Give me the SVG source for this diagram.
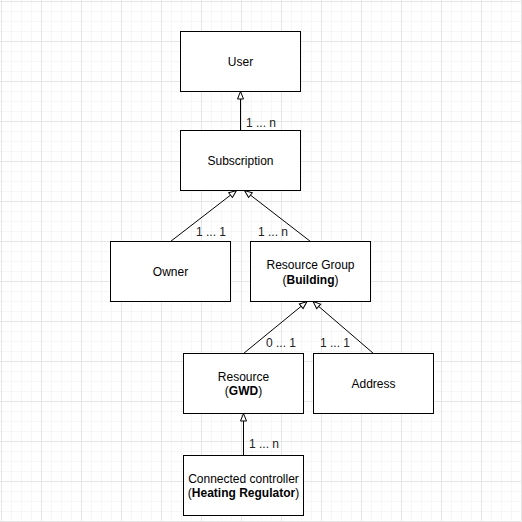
<svg xmlns="http://www.w3.org/2000/svg" width="522" height="522" viewBox="0 0 522 522">
  <defs>
    <pattern id="minor" x="1" y="1" width="10" height="10" patternUnits="userSpaceOnUse">
      <path d="M0.5,0 V10 M0,0.5 H10" fill="none" stroke="#f6f6f6" stroke-width="1"/>
    </pattern>
    <pattern id="major" x="1" y="1" width="40" height="40" patternUnits="userSpaceOnUse">
      <path d="M0.5,0 V40 M0,0.5 H40" fill="none" stroke="#e6e6e6" stroke-width="1"/>
    </pattern>
    <marker id="tri" markerUnits="userSpaceOnUse" markerWidth="12" markerHeight="12" refX="8" refY="3.5" orient="auto" overflow="visible">
      <path d="M0.5,0.5 L8,3.5 L0.5,6.5 Z" fill="#fff" stroke="#000" stroke-width="1"/>
    </marker>
    <style>
      .box { fill: #fff; stroke: #000; stroke-width: 1; }
      .t { font-family: "Liberation Sans", Arial, sans-serif; font-size: 12px; fill: #000; text-anchor: middle; }
      .lbl { font-family: "Liberation Sans", Arial, sans-serif; font-size: 12px; fill: #222; }
      .edge { fill: none; stroke: #000; stroke-width: 1; marker-end: url(#tri); }
      .b { font-weight: bold; }
    </style>
  </defs>
  <rect width="522" height="522" fill="#fff"/>
  <rect width="522" height="522" fill="url(#minor)"/>
  <rect width="522" height="522" fill="url(#major)"/>

  <g id="connectors">
    <path class="edge" d="M240.5,130.5 L240.5,91.5"/>
    <path class="edge" d="M170.5,241.5 L236.5,190.5"/>
    <path class="edge" d="M310.5,241.5 L244.5,190.5"/>
    <path class="edge" d="M243.5,353.5 L307,301.5"/>
    <path class="edge" d="M373.5,353.5 L313,301.5"/>
    <path class="edge" d="M243.5,455.5 L243.5,413.5"/>
    <text class="lbl" x="246" y="127">1 ... n</text>
    <text class="lbl" x="196" y="236">1 ... 1</text>
    <text class="lbl" x="258" y="236">1 ... n</text>
    <text class="lbl" x="266" y="347">0 ... 1</text>
    <text class="lbl" x="320" y="347">1 ... 1</text>
    <text class="lbl" x="249" y="448">1 ... n</text>
  </g>

  <g id="user">
    <rect class="box" x="180.5" y="31.5" width="120" height="60"/>
    <text class="t" x="240.5" y="65.5">User</text>
  </g>
  <g id="subscription">
    <rect class="box" x="180.5" y="130.5" width="120" height="60"/>
    <text class="t" x="240.5" y="164.5">Subscription</text>
  </g>
  <g id="owner">
    <rect class="box" x="110.5" y="241.5" width="120" height="60"/>
    <text class="t" x="170.5" y="275.5">Owner</text>
  </g>
  <g id="resource-group">
    <rect class="box" x="250.5" y="241.5" width="120" height="60"/>
    <text class="t" x="310.5" y="269">Resource Group</text>
    <text class="t" x="310.5" y="283.5">(<tspan class="b">Building</tspan>)</text>
  </g>
  <g id="resource">
    <rect class="box" x="183.5" y="353.5" width="120" height="60"/>
    <text class="t" x="243.5" y="381">Resource</text>
    <text class="t" x="243.5" y="395">(<tspan class="b">GWD</tspan>)</text>
  </g>
  <g id="address">
    <rect class="box" x="313.5" y="353.5" width="120" height="60"/>
    <text class="t" x="373.5" y="387.5">Address</text>
  </g>
  <g id="connected-controller">
    <rect class="box" x="183.5" y="455.5" width="120" height="60"/>
    <text class="t" x="243.5" y="483">Connected controller</text>
    <text class="t" x="243.5" y="497">(<tspan class="b">Heating Regulator</tspan>)</text>
  </g>
</svg>
